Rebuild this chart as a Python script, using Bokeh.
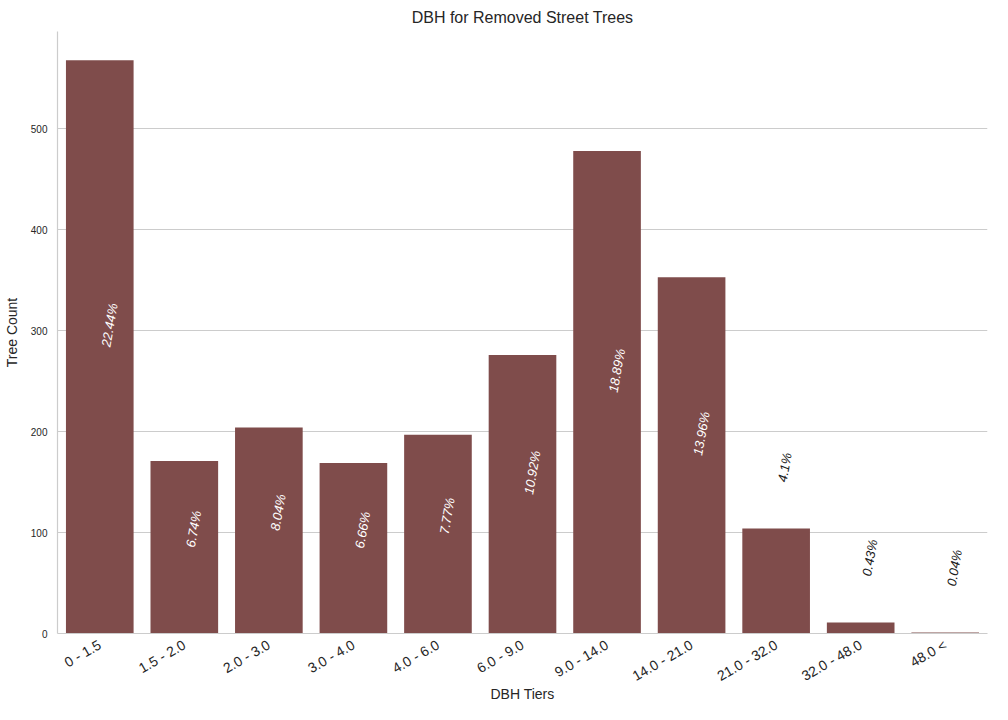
import math
from bokeh.plotting import figure
from bokeh.models import ColumnDataSource, Range1d, FactorRange
from bokeh.core.properties import value
from bokeh.embed import file_html
from bokeh.resources import INLINE

tiers = ["0 - 1.5", "1.5 - 2.0", "2.0 - 3.0", "3.0 - 4.0", "4.0 - 6.0", "6.0 - 9.0",
         "9.0 - 14.0", "14.0 - 21.0", "21.0 - 32.0", "32.0 - 48.0", "48.0 <"]
counts = [568, 171, 204, 169, 197, 276, 478, 353, 104, 11, 1]
pct_labels = ["22.44%", "6.74%", "8.04%", "6.66%", "7.77%", "10.92%",
              "18.89%", "13.96%", "4.1%", "0.43%", "0.04%"]

BAR = "#7f4c4b"
FONT = "Liberation Sans"

p = figure(x_range=FactorRange(*tiers, range_padding=0),
           y_range=Range1d(0, max(counts) * 1.05),
           width=992, height=704, output_backend="svg", toolbar_location=None,
           title="DBH for Removed Street Trees",
           min_border_left=51, min_border_right=5, min_border_bottom=0, min_border_top=0)

p.vbar(x=tiers, top=counts, width=0.8, color=BAR, line_color=None)

# percentage labels
lab_y = [c / 2 if c > 120 else c + 46 for c in counts]
lab_col = ["white" if c > 120 else "#1a1a1a" for c in counts]
src = ColumnDataSource(dict(x=tiers, y=lab_y, t=pct_labels, c=lab_col))
p.text(x="x", y="y", text="t", source=src, text_color="c", angle=math.radians(80),
       text_align="left", text_baseline="middle", x_offset=6,
       text_font=value(FONT), text_font_style="italic", text_font_size="13px")

p.title.align = "center"
p.title.text_font = FONT
p.title.text_font_size = "16px"
p.title.text_font_style = "normal"
p.title.text_color = "#262626"
p.title.standoff = 12

p.outline_line_color = None
p.xgrid.grid_line_color = None
p.ygrid.grid_line_color = "#cccccc"
p.ygrid.grid_line_width = 1
p.ygrid.level = "underlay"

p.yaxis.ticker = [0, 100, 200, 300, 400, 500]
for ax in (p.xaxis[0], p.yaxis[0]):
    ax.axis_line_color = "#cccccc"
    ax.axis_line_width = 1.2
    ax.major_tick_line_color = None
    ax.minor_tick_line_color = None
    ax.major_tick_out = 0
    ax.major_tick_in = 0
    ax.major_label_text_font = FONT
    ax.major_label_text_color = "#262626"
    ax.axis_label_text_font = FONT
    ax.axis_label_text_font_style = "normal"
    ax.axis_label_text_color = "#262626"
    ax.axis_label_text_font_size = "14px"

p.yaxis.axis_label = "Tree Count"
p.yaxis.major_label_text_font_size = "10px"
p.yaxis.major_label_standoff = 10
p.yaxis.axis_label_standoff = 8

p.xaxis.axis_label = "DBH Tiers"
p.xaxis.major_label_text_font_size = "14px"
p.xaxis.major_label_orientation = math.pi / 6
p.xaxis.major_label_standoff = 10
p.xaxis.axis_label_standoff = -8

open("out.html", "w").write(file_html(p, INLINE))
